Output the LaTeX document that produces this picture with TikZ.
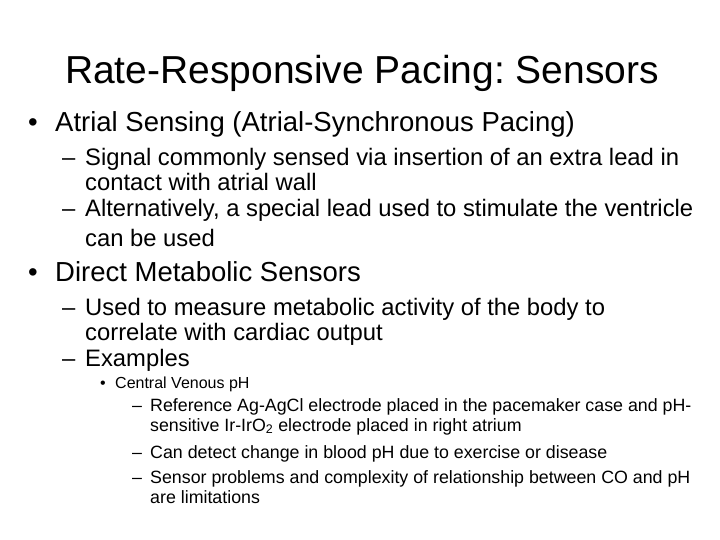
\documentclass[tikz,border=0pt]{standalone}
\usepackage{fontspec}
\setmainfont{Liberation Sans}
\begin{document}
\frenchspacing
\begin{tikzpicture}[x=1pt,y=-1pt,
  t/.style={anchor=base west,inner sep=0pt},
  l1/.style={t,font=\fontsize{27.5}{30}\selectfont},
  l2/.style={t,font=\fontsize{23.8}{27}\selectfont},
  l3/.style={t,font=\fontsize{16}{19}\selectfont},
  l4/.style={t,font=\fontsize{17.8}{20}\selectfont}]
\useasboundingbox (0,0) rectangle (720,540);
\node[anchor=base,inner sep=0pt,font=\fontsize{39}{42}\selectfont] (title) at (362,84) {Rate-Responsive Pacing: Sensors};
\node[l1] (b1) at (28,132) {•}; \node[l1] (a1) at (55,132) {Atrial Sensing (Atrial-Synchronous Pacing)};
\node[l2] (d1) at (62,166) {–}; \node[l2] (a2) at (85,166) {Signal commonly sensed via insertion of an extra lead in};
\node[l2] (a3) at (85,191) {contact with atrial wall};
\node[l2] (d2) at (62,216) {–}; \node[l2] (a4) at (85,216) {Alternatively, a special lead used to stimulate the ventricle};
\node[l2] (a5) at (85,246) {can be used};
\node[l1] (b2) at (28,281) {•}; \node[l1] (a6) at (55,281) {Direct Metabolic Sensors};
\node[l2] (d3) at (62,315) {–}; \node[l2] (a7) at (85,315) {Used to measure metabolic activity of the body to};
\node[l2] (a8) at (85,340) {correlate with cardiac output};
\node[l2] (d4) at (62,366) {–}; \node[l2] (a9) at (85,366) {Examples};
\node[l3] (b3) at (100,388) {•}; \node[l3] (a10) at (115,388) {Central Venous pH};
\node[l4] (d5) at (132,411) {–}; \node[l4] (a11) at (150,411) {Reference Ag-AgCl electrode placed in the pacemaker case and pH-};
\node[l4] (a12) at (150,431) {sensitive Ir-IrO\textsubscript{2} electrode placed in right atrium};
\node[l4] (d6) at (132,458) {–}; \node[l4] (a13) at (150,458) {Can detect change in blood pH due to exercise or disease};
\node[l4] (d7) at (132,483) {–}; \node[l4] (a14) at (150,483) {Sensor problems and complexity of relationship between CO and pH};
\node[l4] (a15) at (150,503) {are limitations};
\end{tikzpicture}
\end{document}
